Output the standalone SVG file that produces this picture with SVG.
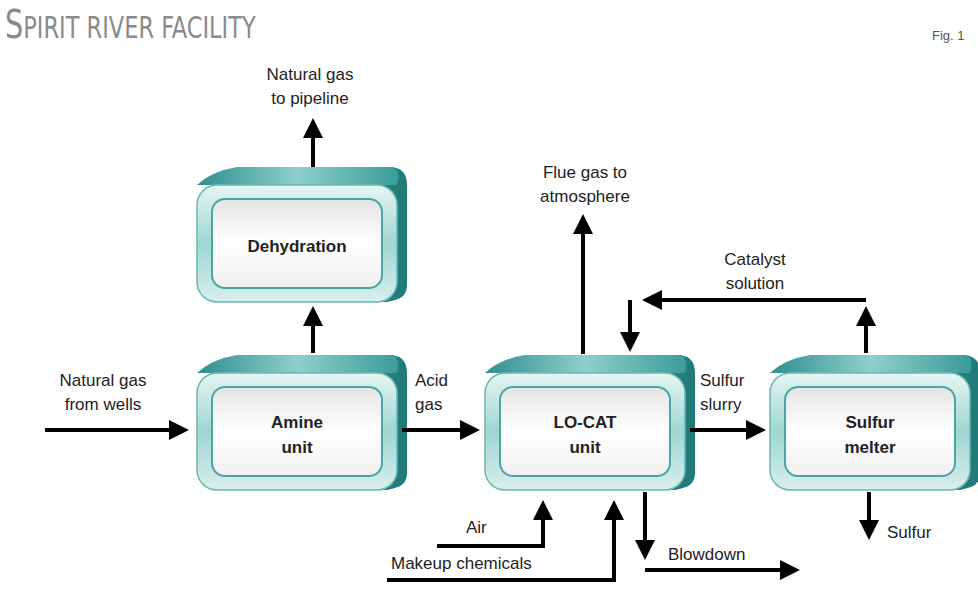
<svg xmlns="http://www.w3.org/2000/svg" width="978" height="590" viewBox="0 0 978 590">
<defs>
<linearGradient id="top" x1="0" y1="0" x2="1" y2="0"><stop offset="0" stop-color="#2f8f8f"/><stop offset="0.5" stop-color="#8fcfcc"/><stop offset="1" stop-color="#3a9c98"/></linearGradient>
<linearGradient id="side" x1="0" y1="0" x2="1" y2="0"><stop offset="0" stop-color="#4aa8a4"/><stop offset="1" stop-color="#1f7a78"/></linearGradient>
<linearGradient id="front" x1="0" y1="0" x2="0" y2="1"><stop offset="0" stop-color="#e6f5f4"/><stop offset="0.5" stop-color="#9fd6d2"/><stop offset="1" stop-color="#d8efed"/></linearGradient>
<linearGradient id="inner" x1="0" y1="0" x2="0" y2="1"><stop offset="0" stop-color="#e4e4e4"/><stop offset="0.5" stop-color="#ffffff"/><stop offset="1" stop-color="#f0f0f0"/></linearGradient>
<marker id="ah" viewBox="0 0 10 10" refX="8" refY="5" markerWidth="5" markerHeight="5" markerUnits="strokeWidth" orient="auto"><path d="M0,0 L10,5 L0,10 z" fill="#000"/></marker>
<g id="box">
<path d="M40,-18 H192 Q210,-18 210,0 V100 Q210,112 198,115 L190,117 H20 Z" fill="url(#side)"/>
<path d="M40,-18 H192 Q205,-18 200,0 H0 Q15,-14 40,-18 Z" fill="url(#top)"/>
<rect x="0" y="0" width="200" height="117" rx="20" fill="url(#front)" stroke="#6bb8b4" stroke-width="1.5"/>
<rect x="15" y="14" width="170" height="89" rx="13" fill="url(#inner)" stroke="#4aa6a2" stroke-width="2"/>
</g>
</defs>
<style>
.t{font-family:"Liberation Sans",Arial,sans-serif;font-size:17px;fill:#222}
.b{font-family:"Liberation Sans",Arial,sans-serif;font-size:17px;font-weight:bold;fill:#222;text-anchor:middle}
.c{text-anchor:middle}
.ln{fill:none;stroke:#000;stroke-width:4}
</style>
<text x="5" y="32" font-family="'Liberation Sans Narrow','DejaVu Sans Condensed',sans-serif" font-size="25" fill="#8a8a8a" transform="scale(1,1.2)"><tspan font-size="32">S</tspan>PIRIT RIVER FACILITY</text>
<text x="932" y="40" font-family="'Liberation Sans',sans-serif" font-size="13" fill="#555">Fig. 1</text>

<g id="dehydration"><use href="#box" x="197" y="185"/><text class="b" x="297" y="252">Dehydration</text></g>
<g id="amine"><use href="#box" x="197" y="373"/><text class="b" x="297" y="428">Amine</text><text class="b" x="297" y="453">unit</text></g>
<g id="locat"><use href="#box" x="485" y="373"/><text class="b" x="585" y="428">LO-CAT</text><text class="b" x="585" y="453">unit</text></g>
<g id="melter"><use href="#box" x="770" y="373"/><text class="b" x="870" y="428">Sulfur</text><text class="b" x="870" y="453">melter</text></g>

<g id="connectors">
<path class="ln" d="M313,167 V122" marker-end="url(#ah)"/>
<path class="ln" d="M313,353 V310" marker-end="url(#ah)"/>
<path class="ln" d="M45,430 H185" marker-end="url(#ah)"/>
<path class="ln" d="M402,430 H476" marker-end="url(#ah)"/>
<path class="ln" d="M583,354 V218" marker-end="url(#ah)"/>
<path class="ln" d="M866,353 V310" marker-end="url(#ah)"/>
<path class="ln" d="M866,300 H646" marker-end="url(#ah)"/>
<path class="ln" d="M630,300 V348" marker-end="url(#ah)"/>
<path class="ln" d="M690,430 H762" marker-end="url(#ah)"/>
<path class="ln" d="M869,492 V536" marker-end="url(#ah)"/>
<path class="ln" d="M437,546 H543 V504" marker-end="url(#ah)"/>
<path class="ln" d="M387,580 H614 V504" marker-end="url(#ah)"/>
<path class="ln" d="M645,492 V556" marker-end="url(#ah)"/>
<path class="ln" d="M645,570 H796" marker-end="url(#ah)"/>
</g>

<text class="t c" x="310" y="80">Natural gas</text><text class="t c" x="310" y="104">to pipeline</text>
<text class="t c" x="103" y="386">Natural gas</text><text class="t c" x="103" y="410">from wells</text>
<text class="t" x="415" y="386">Acid</text><text class="t" x="415" y="410">gas</text>
<text class="t c" x="585" y="178">Flue gas to</text><text class="t c" x="585" y="202">atmosphere</text>
<text class="t c" x="755" y="265">Catalyst</text><text class="t c" x="755" y="289">solution</text>
<text class="t" x="700" y="386">Sulfur</text><text class="t" x="700" y="410">slurry</text>
<text class="t" x="887" y="538">Sulfur</text>
<text class="t" x="466" y="533">Air</text>
<text class="t" x="391" y="569">Makeup chemicals</text>
<text class="t" x="668" y="560">Blowdown</text>
</svg>
